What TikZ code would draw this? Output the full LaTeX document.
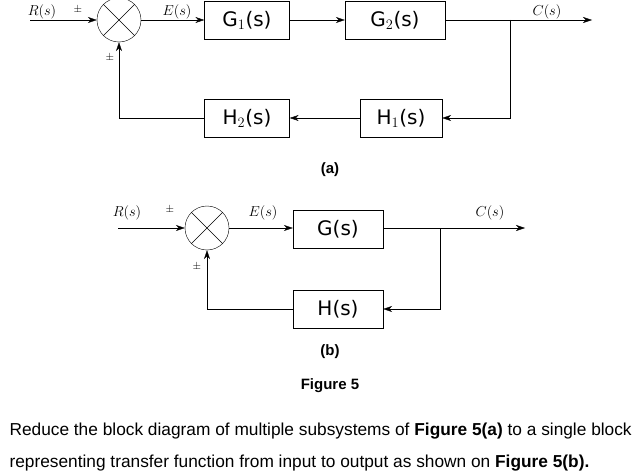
\documentclass[tikz,border=0pt]{standalone}
\usepackage{fontspec}
\setmainfont{Liberation Sans}
\newfontfamily\blk{DejaVu Sans}
\usetikzlibrary{arrows.meta}
\begin{document}
\begin{tikzpicture}[x=1pt,y=-1pt,
 blk/.style={draw,minimum width=#1,minimum height=38pt,inner sep=0pt,font=\blk\fontsize{20}{20}\selectfont},
 sum/.style={draw,circle,minimum size=44pt,inner sep=0pt},
 ar/.style={-{Stealth[length=9pt,width=6pt]}},
 lb/.style={font=\fontsize{15}{15}\selectfont},
 pm/.style={font=\fontsize{11}{11}\selectfont}]
\useasboundingbox (0,0) rectangle (640,476);
% (a)
\coordinate (ra) at (30,20);
\node[sum] (sa) at (119,20) {};
\draw (sa.north west) -- (sa.south east) (sa.north east) -- (sa.south west);
\node[blk=85pt] (g1) at (247,20) {G$_1$(s)};
\node[blk=100pt] (g2) at (395,20) {G$_2$(s)};
\node[blk=82pt] (h1) at (401,118) {H$_1$(s)};
\node[blk=85pt] (h2) at (247,118) {H$_2$(s)};
\coordinate (ca) at (592,20);
\coordinate (ba) at (510,20);
\draw[ar] (ra) -- (sa);
\draw[ar] (sa) -- (g1);
\draw[ar] (g1) -- (g2);
\draw[ar] (g2) -- (ca);
\draw[ar] (ba) |- (h1);
\draw[ar] (h1) -- (h2);
\draw[ar] (h2) -| (sa);
\node[lb] at (42,12) {$R(s)$};
\node[pm] at (78,10) {$\pm$};
\node[lb] at (177,12) {$E(s)$};
\node[lb] at (547,12) {$C(s)$};
\node[pm] at (110,58) {$\pm$};
\node[font=\bfseries\fontsize{15}{15}\selectfont] at (330,170) {(a)};
% (b)
\coordinate (rb) at (118,228);
\node[sum] (sb) at (207,228) {};
\draw (sb.north west) -- (sb.south east) (sb.north east) -- (sb.south west);
\node[blk=90pt] (g) at (338,229) {G(s)};
\node[blk=90pt] (h) at (338,309) {H(s)};
\coordinate (cb) at (525,228);
\coordinate (bb) at (440,228);
\draw[ar] (rb) -- (sb);
\draw[ar] (sb) -- (g.west|-sb);
\draw[ar] (g.east|-sb) -- (cb);
\draw[ar] (bb) |- (h);
\draw[ar] (h) -| (sb);
\node[lb] at (127,213) {$R(s)$};
\node[pm] at (170,210) {$\pm$};
\node[lb] at (263,213) {$E(s)$};
\node[lb] at (490,213) {$C(s)$};
\node[pm] at (197,267) {$\pm$};
\node[font=\bfseries\fontsize{15}{15}\selectfont] at (330,352) {(b)};
\node[font=\bfseries\fontsize{15}{15}\selectfont] at (330,386) {Figure 5};
\node[anchor=west,font=\fontsize{17.3}{17.3}\selectfont] at (6,431) {Reduce the block diagram of multiple subsystems of \textbf{Figure 5(a)} to a single block};
\node[anchor=west,font=\fontsize{17.3}{17.3}\selectfont] at (6,463) {representing transfer function from input to output as shown on \textbf{Figure 5(b).}};
\end{tikzpicture}
\end{document}
